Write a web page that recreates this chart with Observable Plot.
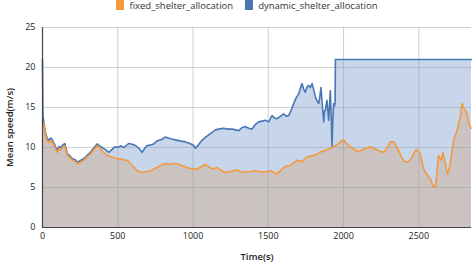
<!DOCTYPE html>
<html><head><meta charset="utf-8">
<script src="https://cdn.jsdelivr.net/npm/d3@7"></script>
<script src="https://cdn.jsdelivr.net/npm/@observablehq/plot@0.6"></script>
<style>
body{margin:0;background:#fff;font-family:"Open Sans",sans-serif;}
#wrap{position:relative;width:474px;height:265px;}
#legend{position:absolute;top:-1px;left:0;width:474px;height:12px;font-size:9.5px;color:#333;display:flex;justify-content:center;gap:12px;padding-left:20px;box-sizing:border-box;}
#legend span{display:flex;align-items:center;gap:5px;}
#legend i{display:inline-block;width:8px;height:10px;}
</style></head>
<body><div id="wrap"><div id="legend"></div><div id="chart"></div></div>
<script>
const seriesNames = ["fixed_shelter_allocation", "dynamic_shelter_allocation"];
const seriesColors = ["#f39a3c", "#4a77b6"];
const xTicks = [0, 500, 1000, 1500, 2000, 2500];
const yTicks = [0, 5, 10, 15, 20, 25];

const dynamicTime = [0,3,10,20,30,42,55,64,80,97,110,120,135,148,158,164,180,197,215,230,241,255,274,295,319,340,363,380,396,420,440,465,480,496,520,540,573,595,618,640,662,680,695,717,739,760,790,817,850,883,920,950,980,1005,1016,1035,1060,1090,1127,1150,1171,1200,1230,1260,1282,1304,1326,1348,1370,1392,1415,1436,1460,1481,1503,1525,1540,1558,1580,1602,1620,1636,1655,1669,1685,1702,1715,1724,1735,1746,1758,1768,1780,1791,1802,1813,1825,1835,1843,1850,1858,1868,1874,1879,1885,1890,1896,1901,1906,1912,1918,1923,1928,1934,1940,1944,1946,2850];
const dynamicSpeed = [21.0,14.0,13.0,11.8,11.2,10.9,11.2,11.0,10.4,9.6,10.1,10.0,10.3,10.5,9.8,9.2,9.0,8.6,8.5,8.2,8.25,8.4,8.6,9.0,9.4,9.9,10.45,10.2,10.0,9.7,9.4,9.8,10.1,10.0,10.2,10.0,10.5,10.4,10.25,9.9,9.4,9.9,10.25,10.3,10.45,10.8,11.0,11.3,11.1,10.95,10.8,10.7,10.5,10.25,9.9,10.3,10.9,11.4,11.9,12.2,12.3,12.4,12.3,12.3,12.2,12.1,12.5,12.6,12.4,12.3,12.9,13.2,13.3,13.4,13.2,14.0,13.7,13.6,13.9,14.2,13.9,14.0,14.8,15.5,16.2,16.7,17.5,18.0,17.3,16.9,17.6,17.75,17.5,18.0,17.2,16.3,15.8,15.5,16.4,17.5,15.5,13.2,14.6,14.6,15.4,15.9,14.5,13.4,15.0,17.1,14.0,10.0,13.0,15.5,15.2,15.6,21.0,21.0];

const fixedTime = [0,10,20,30,42,55,64,80,97,110,120,135,148,158,164,180,197,215,230,241,255,274,295,319,340,363,380,400,430,460,496,520,551,570,584,605,629,650,673,695,717,740,762,790,817,850,883,905,928,960,994,1027,1055,1082,1105,1127,1160,1190,1215,1250,1282,1315,1348,1380,1414,1440,1459,1490,1514,1535,1558,1580,1602,1625,1647,1670,1691,1710,1724,1740,1757,1780,1802,1825,1846,1870,1890,1912,1934,1950,1968,1985,2001,2020,2045,2068,2090,2112,2134,2156,2178,2200,2222,2245,2267,2290,2311,2333,2350,2366,2383,2399,2415,2432,2445,2455,2470,2483,2497,2510,2520,2532,2545,2559,2570,2581,2590,2598,2606,2614,2623,2632,2640,2649,2655,2661,2668,2676,2684,2691,2700,2709,2720,2731,2742,2754,2765,2776,2787,2798,2809,2820,2833,2847];
const fixedSpeed = [13.2,12.7,11.5,10.9,10.6,10.9,10.7,10.1,9.4,9.8,9.7,10.0,10.2,9.5,9.0,8.8,8.4,8.3,8.0,8.0,8.2,8.4,8.8,9.2,9.7,10.2,10.0,9.5,9.0,8.8,8.6,8.6,8.4,8.3,8.0,7.6,7.1,6.9,6.9,7.0,7.1,7.3,7.5,7.8,8.0,7.9,8.0,7.9,7.75,7.5,7.3,7.3,7.6,7.9,7.6,7.3,7.5,7.1,6.9,7.0,7.2,7.0,6.9,7.0,7.1,7.0,6.9,7.0,7.1,6.9,6.7,7.1,7.5,7.7,7.75,8.1,8.4,8.3,8.2,8.5,8.8,8.9,9.0,9.2,9.4,9.6,9.7,9.9,10.1,10.3,10.5,10.8,10.9,10.5,10.1,9.8,9.5,9.6,9.8,9.9,10.1,9.9,9.7,9.5,9.4,9.9,10.7,10.7,10.2,9.6,8.9,8.4,8.2,8.2,8.5,8.8,9.4,9.7,9.5,9.2,8.3,7.3,6.9,6.5,6.2,5.9,5.4,5.1,5.0,5.5,7.5,9.0,8.7,8.4,8.9,9.4,8.7,8.0,7.2,6.7,7.2,8.0,9.5,10.9,11.5,12.1,13.0,13.8,15.5,15.0,14.6,14.2,13.0,12.4];

const dynamic = dynamicTime.map((t, i) => ({t, v: dynamicSpeed[i]}));
const fixed = fixedTime.map((t, i) => ({t, v: fixedSpeed[i]}));

const leg = document.getElementById("legend");
seriesNames.forEach((n, i) => {
  const s = document.createElement("span");
  s.innerHTML = `<i style="background:${seriesColors[i]}"></i>${n}`;
  leg.appendChild(s);
});

const chart = Plot.plot({
  width: 474, height: 265,
  marginLeft: 42, marginRight: 3, marginTop: 27, marginBottom: 38,
  style: {fontFamily: "Open Sans, sans-serif", fontSize: "9px", color: "#222", background: "white"},
  x: {domain: [0, 2850]},
  y: {domain: [0, 25]},
  marks: [
    Plot.areaY(dynamic, {x: "t", y: "v", fill: "#c7d6eb", curve: "linear"}),
    Plot.areaY(fixed, {x: "t", y: "v", fill: "#cbc3c1", curve: "linear"}),
    Plot.gridX(xTicks, {stroke: "#999", strokeOpacity: 0.45}),
    Plot.gridY(yTicks, {stroke: "#999", strokeOpacity: 0.45}),
    Plot.lineY(dynamic, {x: "t", y: "v", stroke: seriesColors[1], strokeWidth: 1.6}),
    Plot.lineY(fixed, {x: "t", y: "v", stroke: seriesColors[0], strokeWidth: 1.6}),
    Plot.ruleX([0], {stroke: "#444", strokeWidth: 1.2}),
    Plot.ruleY([0], {stroke: "#444", strokeWidth: 1.2}),
    Plot.axisX({ticks: xTicks, tickFormat: d => String(d), tickSize: 0, tickPadding: 5, label: "Time(s)", labelAnchor: "center", labelOffset: 32, labelArrow: "none"}),
    Plot.axisY({ticks: yTicks, tickFormat: d => String(d), tickSize: 0, tickPadding: 7, label: "Mean speed(m/s)", labelAnchor: "center", labelOffset: 36, labelArrow: "none"})
  ]
});
chart.querySelectorAll("g[aria-label='x-axis label'] text, g[aria-label='y-axis label'] text").forEach(t => { t.style.fontWeight = "600"; t.style.fontSize = "9.5px"; });
document.getElementById("chart").appendChild(chart);
</script>
</body></html>
